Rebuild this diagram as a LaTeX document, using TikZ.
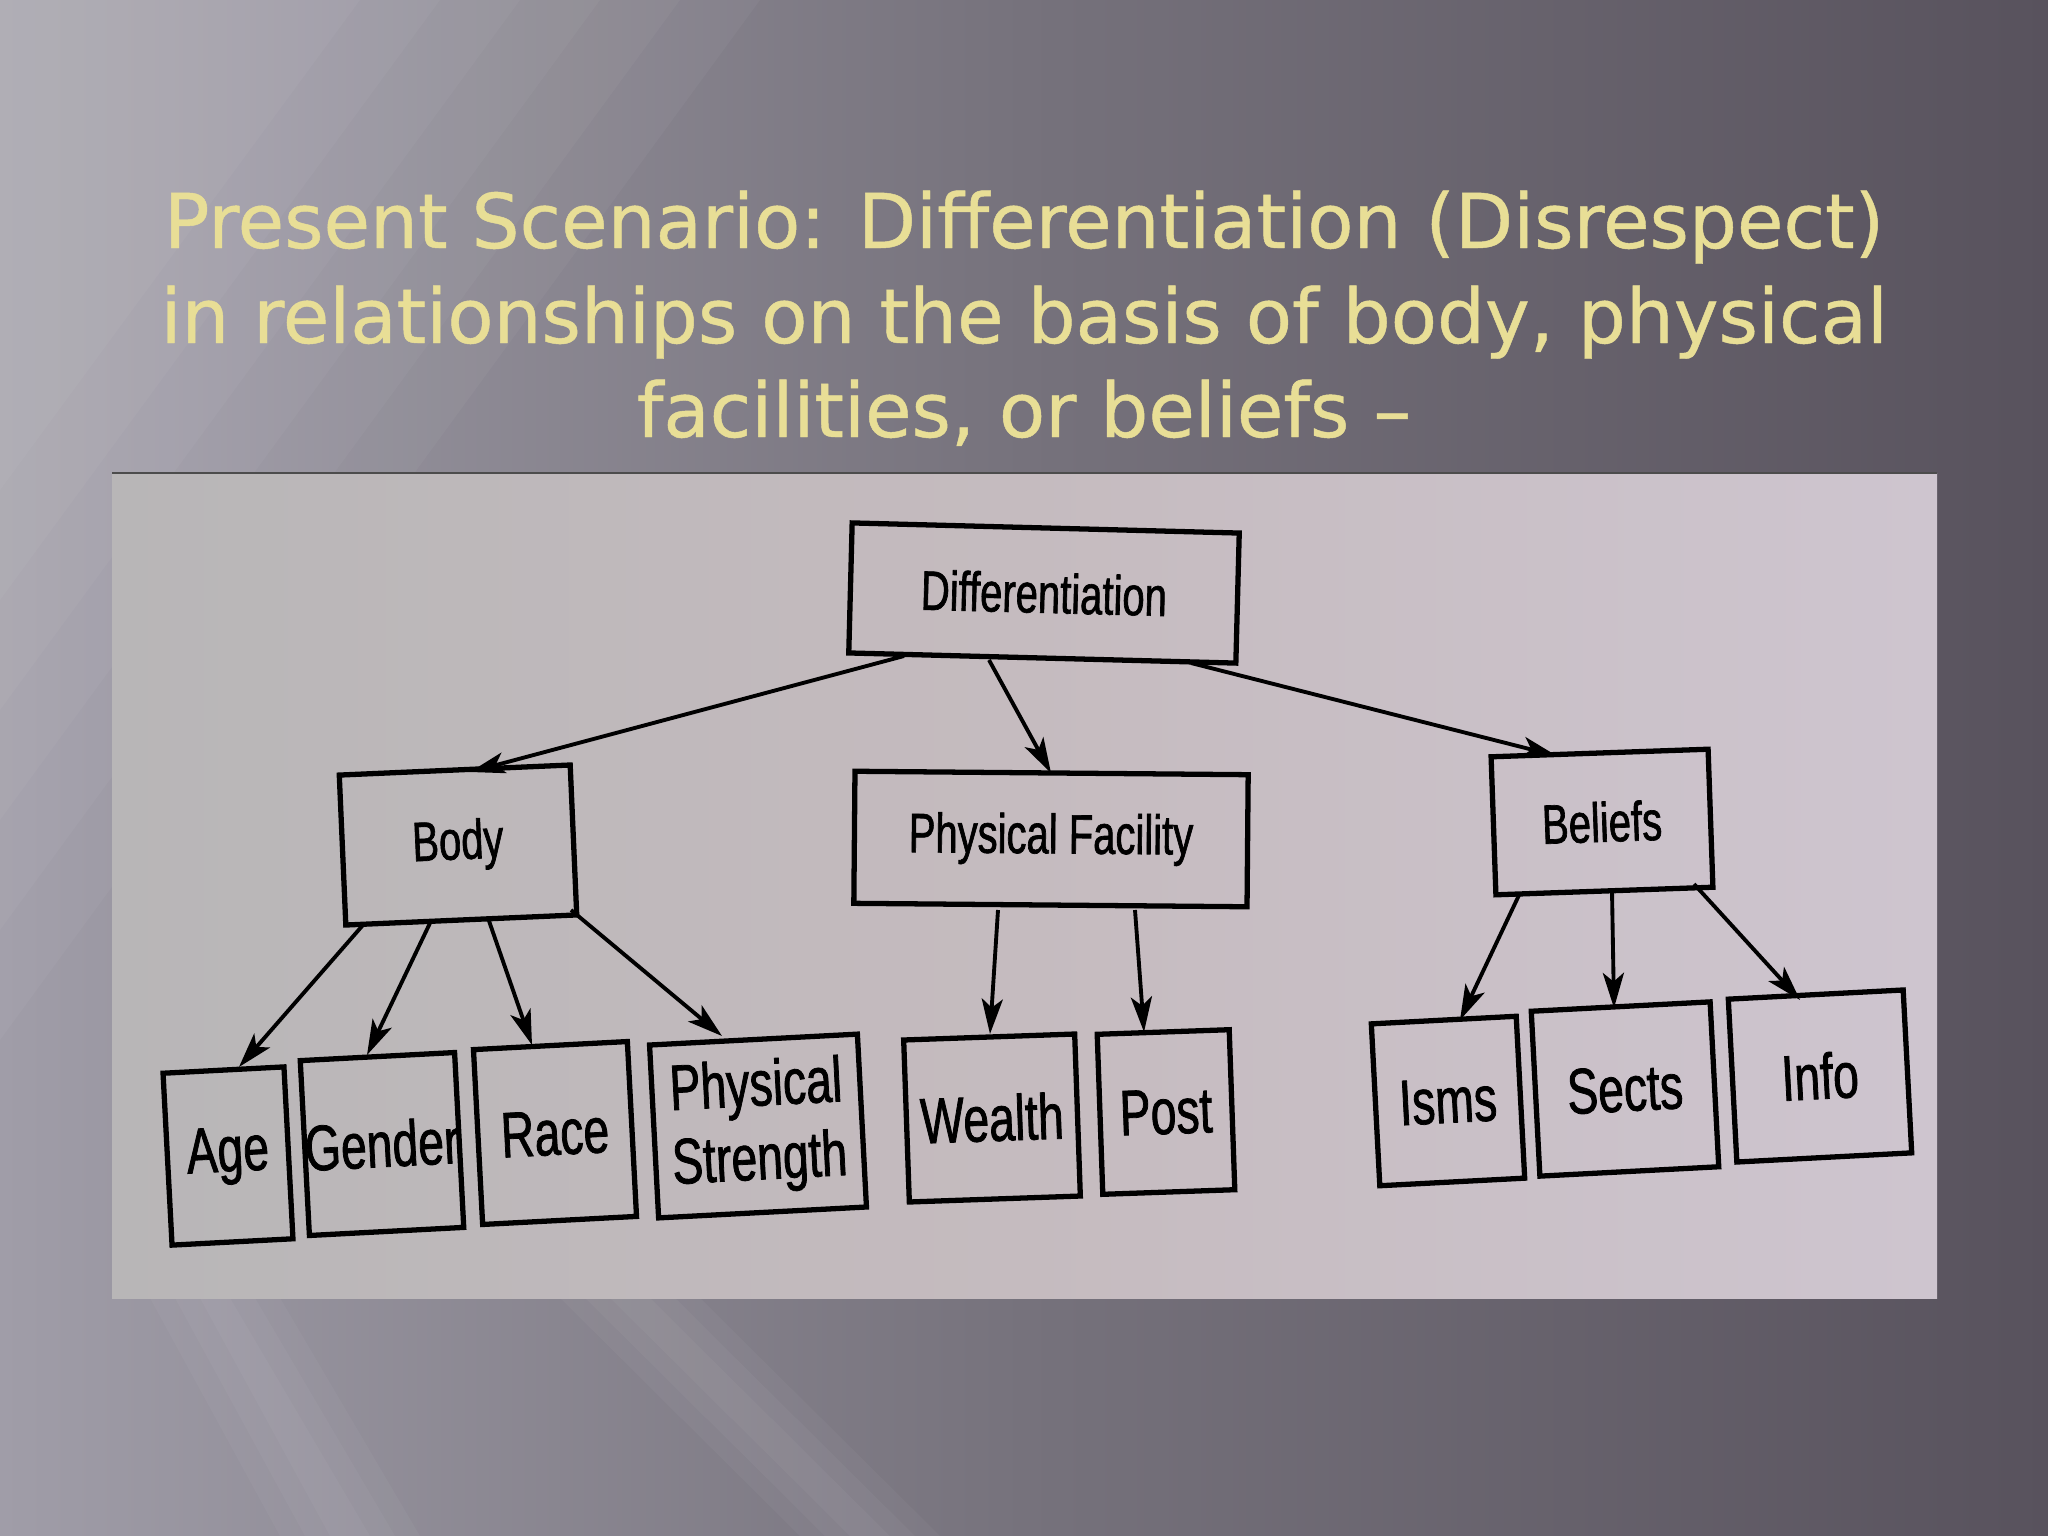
\documentclass[tikz,border=0pt]{standalone}
\usepackage{fontspec}
\usetikzlibrary{arrows.meta,calc}
\newfontfamily\boxfont[FakeStretch=0.72,FakeBold=1.2]{Liberation Sans}
\newfontfamily\titlefont[FakeBold=0.6]{DejaVu Sans}
\definecolor{bgL}{RGB}{160,157,168}
\definecolor{bgM}{RGB}{118,114,124}
\definecolor{bgR}{RGB}{88,82,93}
\definecolor{phL}{RGB}{184,182,183}
\definecolor{phM}{RGB}{197,187,191}
\definecolor{phR}{RGB}{206,197,207}
\definecolor{titlegold}{RGB}{232,222,150}
\tikzset{
  box/.style={draw=black, line width=1.5pt, inner sep=0pt, align=center, text=black},
  midtext/.style={font=\boxfont\fontsize{15.8}{18}\selectfont},
  leaftext/.style={font=\boxfont\fontsize{18.3}{21}\selectfont},
  conn/.style={line width=1.1pt, black, -{Stealth[length=10pt,width=6pt,inset=2.5pt]}},
  titleline/.style={anchor=base, text=titlegold, font=\titlefont\fontsize{21.5}{25}\selectfont},
  ray/.style={fill=white, draw=none, opacity=0.035}
}
\begin{document}
\begin{tikzpicture}[x=0.01cm, y=-0.01cm]
\useasboundingbox (0,0) rectangle (2048,1536);
\shade[left color=bgL, right color=bgR, middle color=bgM] (0,0) rectangle (2048,1536);
% soft light rays
\foreach \a/\b in {760/1040, 680/930, 600/820, 520/710, 440/600, 360/490}{
  \fill[ray] (0,0) -- (\a,0) -- (0,\b) -- cycle;
}
\foreach \d in {0,25,50}{
  \fill[ray] (150+\d,1298) -- (280-\d,1298) -- (420-\d,1536) -- (280+\d,1536) -- cycle;
  \fill[ray] (560+\d,1298) -- (700-\d,1298) -- (940-\d,1536) -- (800+\d,1536) -- cycle;
}
% photo
\shade[left color=phL, right color=phR, middle color=phM] (112,473) rectangle (1937,1298);
\draw[black!70, line width=0.8pt] (112,473) -- (1937,473);
% title
\node[titleline] (t1) at (1024,248) {Present Scenario: Differentiation (Disrespect)};
\node[titleline] (t2) at (1024,343) {in relationships on the basis of body, physical};
\node[titleline] (t3) at (1024,437) {facilities, or beliefs –};
% level 0
\node[box, midtext, minimum width=3.87cm, minimum height=1.30cm, rotate=-1.5] (diff) at (1044,593) {Differentiation};
% level 1
\node[box, midtext, minimum width=2.31cm, minimum height=1.50cm, rotate=2.5] (body) at (458,845) {Body};
\node[box, midtext, minimum width=3.93cm, minimum height=1.32cm, rotate=-0.5] (pf) at (1051,839) {Physical Facility};
\node[box, midtext, minimum width=2.17cm, minimum height=1.38cm, rotate=2] (bel) at (1602,822) {Beliefs};
% level 2
\node[box, leaftext, minimum width=1.21cm, minimum height=1.72cm, rotate=3] (age) at (228,1156) {Age};
\node[box, leaftext, minimum width=1.48cm, minimum height=1.75cm, rotate=3] (gen) at (382,1144) {Gender};
\node[box, leaftext, minimum width=1.54cm, minimum height=1.75cm, rotate=3] (race) at (555,1133) {Race};
\node[box, leaftext, minimum width=2.08cm, minimum height=1.73cm, rotate=3] (ps) at (758,1126) {Physical\\Strength};
\node[box, leaftext, minimum width=1.71cm, minimum height=1.62cm, rotate=2] (wea) at (992,1118) {Wealth};
\node[box, leaftext, minimum width=1.32cm, minimum height=1.60cm, rotate=2] (post) at (1166,1112) {Post};
\node[box, leaftext, minimum width=1.45cm, minimum height=1.62cm, rotate=3] (isms) at (1448,1101) {Isms};
\node[box, leaftext, minimum width=1.79cm, minimum height=1.65cm, rotate=3] (sects) at (1625,1089) {Sects};
\node[box, leaftext, minimum width=1.75cm, minimum height=1.63cm, rotate=3] (info) at (1820,1076) {Info};
% connectors
\draw[conn] ($(diff.center)+(-140,63)$) -- ($(body.center)+(12,-73)$);
\draw[conn] ($(diff.center)+(-55,67)$) -- ($(pf.center)+(0,-66)$);
\draw[conn] ($(diff.center)+(147,70)$) -- ($(bel.center)+(-45,-66)$);
\draw[conn] ($(body.center)+(-95,80)$) -- ($(age.center)+(11,-89)$);
\draw[conn] ($(body.center)+(-27,76)$) -- ($(gen.center)+(-15,-89)$);
\draw[conn] ($(body.center)+(30,73)$) -- ($(race.center)+(-23,-88)$);
\draw[conn] ($(body.center)+(113,65)$) -- ($(ps.center)+(-36,-90)$);
\draw[conn] ($(pf.center)+(-53,71)$) -- ($(wea.center)+(-2,-84)$);
\draw[conn] ($(pf.center)+(84,71)$) -- ($(post.center)+(-22,-80)$);
\draw[conn] ($(bel.center)+(-82,71)$) -- ($(isms.center)+(12,-81)$);
\draw[conn] ($(bel.center)+(10,69)$) -- ($(sects.center)+(-11,-81)$);
\draw[conn] ($(bel.center)+(92,62)$) -- ($(info.center)+(-20,-76)$);
\end{tikzpicture}
\end{document}
